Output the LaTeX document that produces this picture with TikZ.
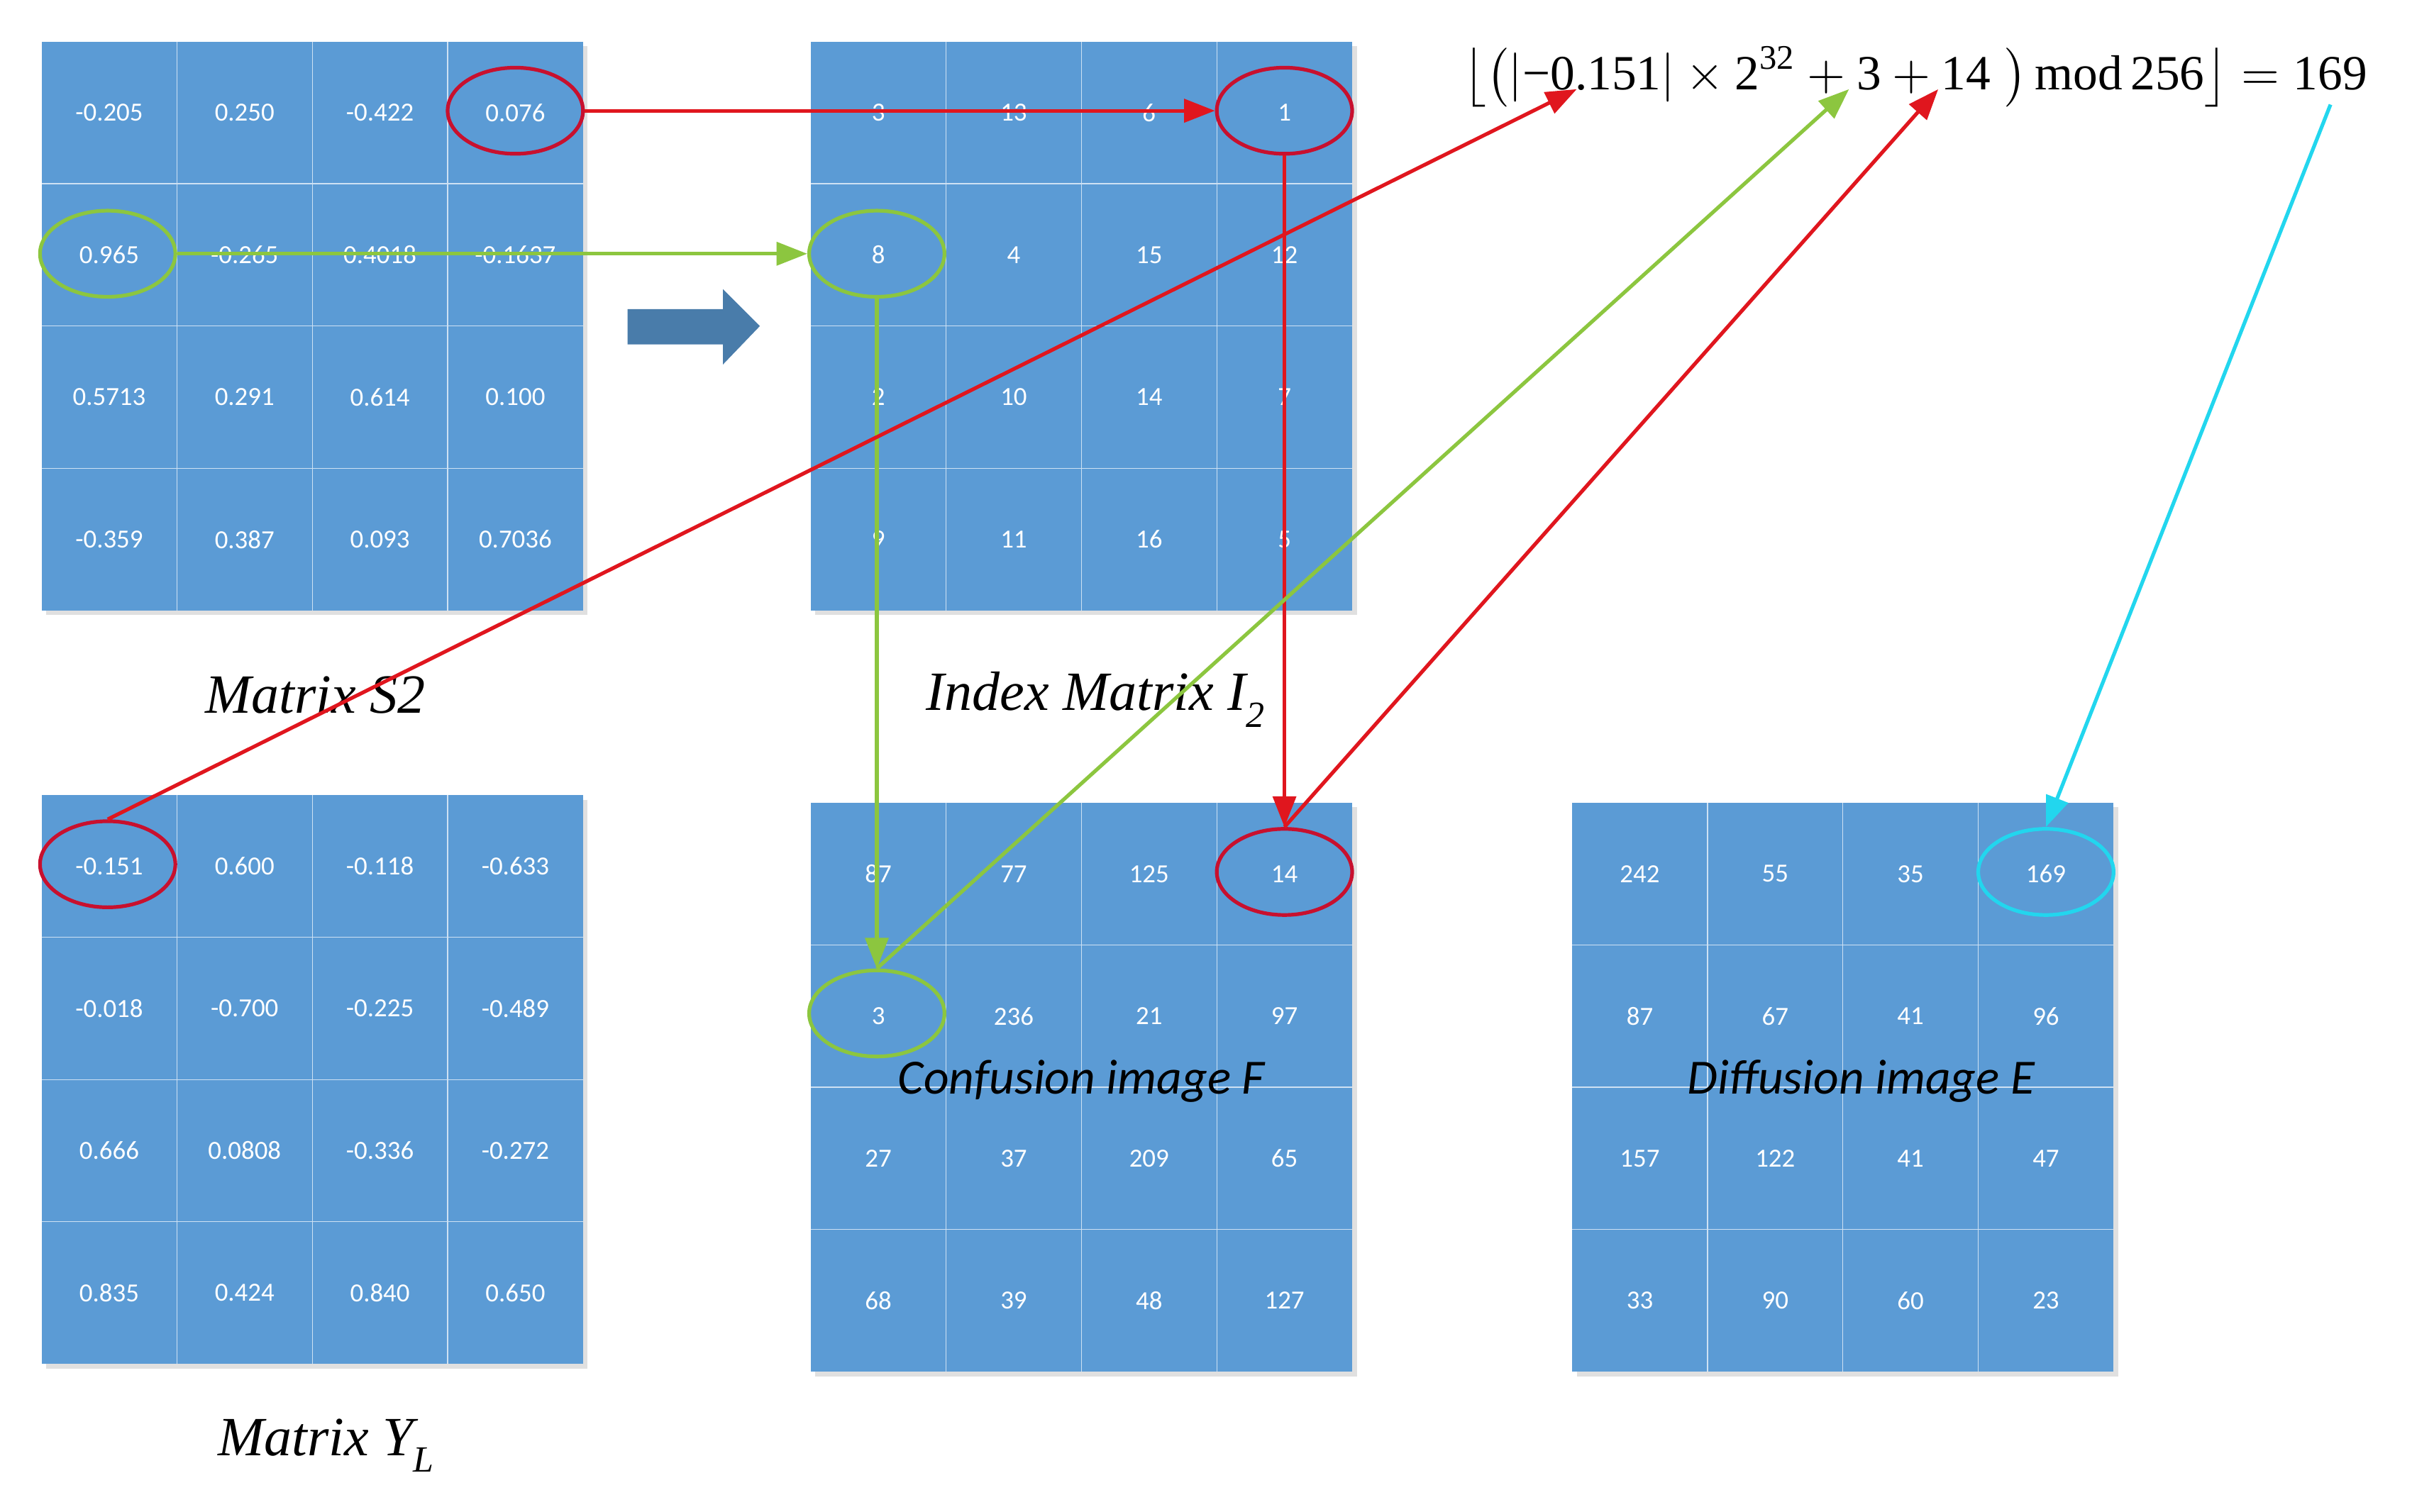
\documentclass[tikz,border=0pt]{standalone}
\usepackage{fontspec}
\setmainfont{Liberation Serif}
\newfontfamily\calfont{Carlito}
\usetikzlibrary{arrows.meta,shapes.geometric}
\newcommand\sbs[1]{\raisebox{-0.3em}{\fontsize{24}{24}\selectfont #1}}
\newcommand\tx[1]{\mbox{#1}}
\begin{document}
\begin{tikzpicture}[x=1pt,y=-1pt,
  num/.style={font=\calfont\fontsize{17}{17}\selectfont,text=white},
  lab/.style={font=\itshape\fontsize{36}{36}\selectfont},
  slab/.style={font=\calfont\itshape\fontsize{32}{32}\selectfont},
  ring/.style={draw,line width=2.4pt,ellipse,minimum width=88pt,minimum height=56pt,inner sep=0pt},
  rarr/.style={draw=arrred,line width=2.4pt,-{Triangle[length=20pt,width=15pt]}},
  garr/.style={draw=arrgreen,line width=2.4pt,-{Triangle[length=20pt,width=15pt]}},
  carr/.style={draw=arrcyan,line width=2.4pt,-{Triangle[length=20pt,width=15pt]}}]
\definecolor{cellblue}{HTML}{5B9BD5}
\definecolor{arrred}{HTML}{E0161E}
\definecolor{ringred}{HTML}{C8102E}
\definecolor{arrgreen}{HTML}{8CC63F}
\definecolor{arrcyan}{HTML}{22D6EE}
\useasboundingbox (0,0) rectangle (1568,983);
\fill[white] (0,0) rectangle (1568,983);
\newcommand\mymat[5]{%
  \fill[black!12] (#1+3,#2+3) rectangle (#1+355,#2+373);
  \fill[cellblue] (#1,#2) rectangle (#1+352,#2+370);
  \foreach \i in {1,2,3} {
    \draw[white!70!cellblue,line width=0.6pt] (#1+\i*88,#2) -- (#1+\i*88,#2+370);
    \draw[white!70!cellblue,line width=0.6pt] (#1,#2+\i*92.5) -- (#1+352,#2+\i*92.5);
  }
  \foreach \row [count=\r] in {#4} {
    \foreach \v [count=\c] in \row {
      \node[num] (#3-\r-\c) at (#1+\c*88-44,#2+\r*92.5-46.25) {\v};
    }
  }
  #5}
\mymat{27}{27}{s}{{-0.205,0.250,-0.422,0.076},{0.965,-0.265,0.4018,-0.1637},{0.5713,0.291,0.614,0.100},{-0.359,0.387,0.093,0.7036}}{}
\mymat{527}{27}{i}{{3,13,6,1},{8,4,15,12},{2,10,14,7},{9,11,16,5}}{}
\mymat{27}{517}{y}{{-0.151,0.600,-0.118,-0.633},{-0.018,-0.700,-0.225,-0.489},{0.666,0.0808,-0.336,-0.272},{0.835,0.424,0.840,0.650}}{}
\mymat{527}{522}{f}{{87,77,125,14},{3,236,21,97},{27,37,209,65},{68,39,48,127}}{}
\mymat{1022}{522}{e}{{242,55,35,169},{87,67,41,96},{157,122,41,47},{33,90,60,23}}{}
\node[lab] (ls) at (205,452) {Matrix S2};
\node[lab] (li) at (712,455) {Index Matrix I\sbs{2}};
\node[lab] (ly) at (212,940) {Matrix Y\sbs{L}};
\node[slab] (lf) at (703,703) {Confusion image F};
\node[slab] (le) at (1210,703) {Diffusion image E};
\fill[cellblue!80!black] (408,201) -- (470,201) -- (470,188) -- (494,212) -- (470,237) -- (470,224) -- (408,224) -- cycle;
\node[ring,draw=ringred] (rs) at (335,72) {};
\node[ring,draw=arrgreen] (gs) at (70,165) {};
\node[ring,draw=ringred] (ri) at (835,72) {};
\node[ring,draw=arrgreen] (gi) at (570,165) {};
\node[ring,draw=ringred] (ry) at (70,562) {};
\node[ring,draw=ringred] (rf) at (835,567) {};
\node[ring,draw=arrgreen] (gf) at (570,659) {};
\node[ring,draw=arrcyan] (ce) at (1330,567) {};
\node[inner sep=0pt,scale=3.2,transform shape] (fm) at (1245,50)
  {$\left\lfloor\left(\left|\tx{−0.151}\right|\times\tx{2}^{\tx{\scriptsize 32}}+\tx{3}+\tx{14}\;\right)\tx{mod\,256}\right\rfloor=\tx{169}$};
\coordinate (t1) at (1025,58);
\coordinate (t2) at (1202,58);
\coordinate (t3) at (1260,58);
\coordinate (t4) at (1515,68);
\draw[rarr] (rs.east) -- (ri.west);
\draw[garr] (gs.east) -- (gi.west);
\draw[rarr] (ri.south) -- (rf.north);
\draw[garr] (gi.south) -- (gf.north);
\draw[rarr] (ry.north) -- (t1);
\draw[garr] (gf.north) -- (t2);
\draw[rarr] (rf.north) -- (t3);
\draw[carr] (t4) -- (ce.north);
\end{tikzpicture}
\end{document}
